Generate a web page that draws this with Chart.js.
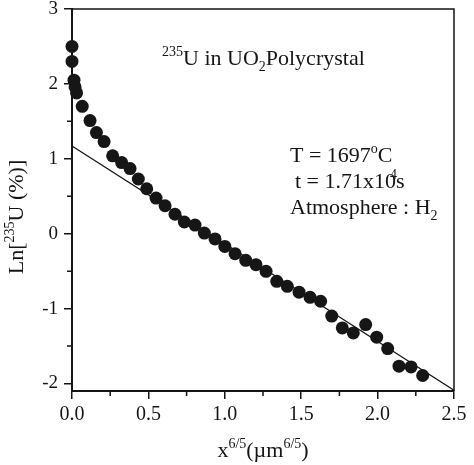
<!DOCTYPE html>
<html>
<head>
<meta charset="utf-8">
<script src="https://cdn.jsdelivr.net/npm/chart.js@4"></script>
<style>
  html, body { margin: 0; padding: 0; background: #fff; }
  #wrap { width: 474px; height: 465px; }
</style>
</head>
<body>
<div id="wrap"><canvas id="myChart" width="474" height="465"></canvas></div>
<script>
// x^(6/5) values and Ln[235U (%)] values
const xVals = [0, 0, 0.013, 0.02, 0.03, 0.067, 0.118, 0.16, 0.21, 0.266, 0.325, 0.38,
  0.434, 0.489, 0.55, 0.609, 0.674, 0.735, 0.805, 0.866, 0.936, 1.0, 1.067, 1.137,
  1.204, 1.27, 1.34, 1.409, 1.486, 1.558, 1.627, 1.70, 1.769, 1.841, 1.922, 1.994,
  2.066, 2.14, 2.219, 2.295];
const lnVals = [2.50, 2.30, 2.05, 1.96, 1.88, 1.70, 1.51, 1.35, 1.23, 1.04, 0.95, 0.87,
  0.73, 0.60, 0.476, 0.373, 0.26, 0.156, 0.115, 0.009, -0.07, -0.17, -0.267, -0.356,
  -0.413, -0.502, -0.636, -0.702, -0.78, -0.849, -0.902, -1.10, -1.258, -1.324, -1.213, -1.382,
  -1.533, -1.769, -1.778, -1.893];
// fitted straight line (end points)
const fitX = [0, 2.5];
const fitY = [1.17, -2.09];
const xMinor = [0.25, 0.75, 1.25, 1.75, 2.25];
const yMinor = [2.5, 1.5, 0.5, -0.5, -1.5];

const serif = "'Liberation Serif', 'Times New Roman', serif";
const ink = "#151515";

function richText(ctx, parts, x, y, size) {
  // parts: {t, sup, sub, dx, noAdvance}
  let total = 0;
  parts.forEach(p => {
    ctx.font = (p.sup || p.sub ? Math.round(size * 0.62) : size) + "px " + serif;
    p.w = ctx.measureText(p.t).width;
    if (!p.noAdvance) total += p.w + (p.dx || 0);
  });
  let cx = x;
  parts.forEach(p => {
    ctx.font = (p.sup || p.sub ? Math.round(size * 0.62) : size) + "px " + serif;
    let dy = p.sup ? -size * 0.4 : (p.sub ? size * 0.25 : 0);
    ctx.fillText(p.t, cx + (p.dx || 0), y + dy);
    if (!p.noAdvance) cx += p.w + (p.dx || 0);
  });
  return total;
}

const decor = {
  id: "decor",
  afterDraw(chart) {
    const ctx = chart.ctx;
    const a = chart.chartArea;
    const sx = chart.scales.x, sy = chart.scales.y;
    ctx.save();
    ctx.strokeStyle = ink;
    ctx.lineWidth = 1.5;
    // top and right frame
    ctx.beginPath();
    ctx.moveTo(a.left, a.top); ctx.lineTo(a.right, a.top); ctx.lineTo(a.right, a.bottom);
    ctx.stroke();
    // minor ticks
    ctx.beginPath();
    xMinor.forEach(v => {
      const px = sx.getPixelForValue(v);
      ctx.moveTo(px, a.bottom); ctx.lineTo(px, a.bottom + 5);
    });
    yMinor.forEach(v => {
      const py = sy.getPixelForValue(v);
      ctx.moveTo(a.left, py); ctx.lineTo(a.left - 5, py);
    });
    ctx.stroke();

    ctx.fillStyle = ink;
    ctx.textBaseline = "alphabetic";
    ctx.textAlign = "left";
    // annotations
    richText(ctx, [{t: "235", sup: true}, {t: "U in UO"}, {t: "2", sub: true}, {t: "Polycrystal"}], 162, 65, 22);
    richText(ctx, [{t: "T = 1697"}, {t: "o", sup: true}, {t: "C"}], 290, 162, 22);
    richText(ctx, [{t: "t = 1.71x10"}, {t: "4", sup: true, dx: -6, noAdvance: true}, {t: "s"}], 295, 188, 22);
    richText(ctx, [{t: "Atmosphere : H"}, {t: "2", sub: true}], 290, 214, 22);

    // x axis title
    const xParts = [{t: "x"}, {t: "6/5", sup: true}, {t: "(\u00b5m"}, {t: "6/5", sup: true}, {t: ")"}];
    const xw = richText(document.createElement("canvas").getContext("2d"), xParts.map(p => Object.assign({}, p)), 0, 0, 22);
    richText(ctx, xParts, (a.left + a.right) / 2 - xw / 2, 457, 22);

    // y axis title
    const yParts = [{t: "Ln["}, {t: "235", sup: true}, {t: "U (%)]"}];
    const yw = richText(document.createElement("canvas").getContext("2d"), yParts.map(p => Object.assign({}, p)), 0, 0, 22);
    ctx.translate(23, 217);
    ctx.rotate(-Math.PI / 2);
    richText(ctx, yParts, -yw / 2, 0, 22);
    ctx.restore();
  }
};

const ctx = document.getElementById("myChart").getContext("2d");
const myChart = new Chart(ctx, {
  type: "scatter",
  data: {
    datasets: [
      {
        label: "235U",
        data: xVals.map((x, i) => ({x: x, y: lnVals[i]})),
        pointRadius: 6.5,
        pointBackgroundColor: "#161616",
        pointBorderColor: "#161616",
        pointBorderWidth: 0,
        clip: false
      },
      {
        type: "line",
        label: "fit",
        data: fitX.map((x, i) => ({x: x, y: fitY[i]})),
        borderColor: ink,
        borderWidth: 1.3,
        pointRadius: 0,
        fill: false
      }
    ]
  },
  options: {
    responsive: false,
    animation: false,
    events: [],
    layout: { padding: { left: 0, top: 9, right: 20, bottom: 0 } },
    plugins: { legend: { display: false }, tooltip: { enabled: false } },
    scales: {
      x: {
        type: "linear",
        min: 0,
        max: 2.5,
        afterFit(s) { s.height = 74; s.paddingLeft = 0; s.paddingRight = 0; },
        ticks: {
          stepSize: 0.5,
          includeBounds: false,
          maxRotation: 0,
          padding: 4,
          color: ink,
          font: { family: serif, size: 20 },
          callback: v => v.toFixed(1)
        },
        grid: { drawOnChartArea: false, tickLength: 8, color: ink, lineWidth: 1.5 },
        border: { color: ink, width: 2 }
      },
      y: {
        min: -2.1,
        max: 3,
        afterFit(s) { s.width = 72; s.paddingTop = 0; s.paddingBottom = 0; },
        ticks: {
          stepSize: 1,
          includeBounds: false,
          padding: 6,
          color: ink,
          font: { family: serif, size: 19 },
          callback: v => String(v)
        },
        grid: { drawOnChartArea: false, tickLength: 8, color: ink, lineWidth: 1.5 },
        border: { color: ink, width: 2 }
      }
    }
  },
  plugins: [decor]
});
</script>
</body>
</html>
